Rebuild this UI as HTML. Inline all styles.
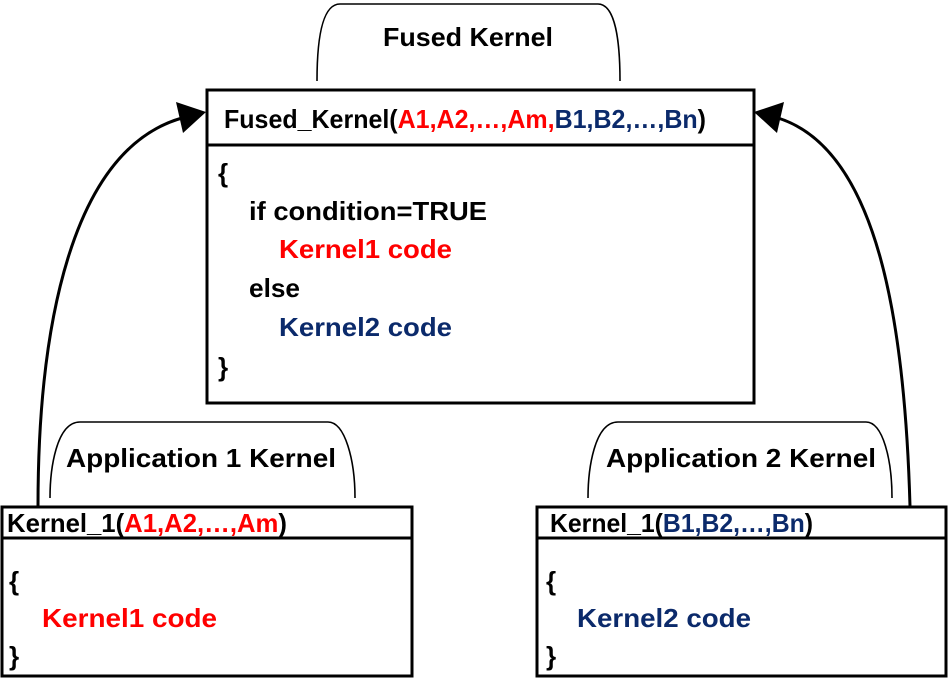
<!DOCTYPE html>
<html><head><meta charset="utf-8"><style>
html,body{margin:0;padding:0;background:#fff;}
svg{display:block;}
text{font-family:"Liberation Sans",sans-serif;font-weight:bold;font-size:26px;}
.r{fill:#ff0000}.b{fill:#0b2a6b}
</style></head><body>
<svg width="948" height="678" viewBox="0 0 948 678" xmlns="http://www.w3.org/2000/svg">
<!-- tabs -->
<path d="M317,81 C317,40 322,4 340,4 L598,4 C615,4 620,40 620,81" fill="none" stroke="#000" stroke-width="1.6"/>
<path d="M50,498 C50,470 56,422 80,422 L328,422 C345,422 355,460 355,498" fill="none" stroke="#000" stroke-width="1.6"/>
<path d="M588,498 C588,470 594,422 618,422 L866,422 C883,422 892,460 892,498" fill="none" stroke="#000" stroke-width="1.6"/>
<!-- main box -->
<rect x="207" y="90" width="547" height="313" fill="#fff" stroke="#000" stroke-width="3"/>
<line x1="207" y1="145" x2="754" y2="145" stroke="#000" stroke-width="3"/>
<!-- bottom boxes -->
<rect x="2" y="507" width="410" height="169" fill="#fff" stroke="#000" stroke-width="3"/>
<line x1="2" y1="538" x2="412" y2="538" stroke="#000" stroke-width="3"/>
<rect x="537" y="507" width="409" height="169" fill="#fff" stroke="#000" stroke-width="3"/>
<line x1="537" y1="538" x2="946" y2="538" stroke="#000" stroke-width="3"/>
<!-- arrows -->
<path d="M38,506 C38,330 70,150 182,118" fill="none" stroke="#000" stroke-width="3"/>
<polygon points="206,112 176,102 183,133" fill="#000"/>
<path d="M910,506 C905,330 880,150 778,118" fill="none" stroke="#000" stroke-width="3"/>
<polygon points="754,112 777,133 784,102" fill="#000"/>
<!-- text -->
<text x="383" y="46" textLength="170" lengthAdjust="spacingAndGlyphs">Fused Kernel</text>
<text x="224" y="128" textLength="482" lengthAdjust="spacingAndGlyphs">Fused_Kernel(<tspan class="r">A1,A2,…,Am,</tspan><tspan class="b">B1,B2,…,Bn</tspan>)</text>
<text x="218" y="182">{</text>
<text x="249" y="220" textLength="238" lengthAdjust="spacingAndGlyphs">if condition=TRUE</text>
<text x="279" y="258" class="r" textLength="173" lengthAdjust="spacingAndGlyphs">Kernel1 code</text>
<text x="249" y="297" textLength="51" lengthAdjust="spacingAndGlyphs">else</text>
<text x="279" y="336" class="b" textLength="173" lengthAdjust="spacingAndGlyphs">Kernel2 code</text>
<text x="218" y="376">}</text>

<text x="66" y="467" textLength="270" lengthAdjust="spacingAndGlyphs">Application 1 Kernel</text>
<text x="606" y="467" textLength="270" lengthAdjust="spacingAndGlyphs">Application 2 Kernel</text>

<text x="7" y="532" textLength="280" lengthAdjust="spacingAndGlyphs">Kernel_1(<tspan class="r">A1,A2,…,Am</tspan>)</text>
<text x="9" y="590">{</text>
<text x="42" y="627" class="r" textLength="175" lengthAdjust="spacingAndGlyphs">Kernel1 code</text>
<text x="9" y="665">}</text>

<text x="550" y="532" textLength="263" lengthAdjust="spacingAndGlyphs">Kernel_1(<tspan class="b">B1,B2,…,Bn</tspan>)</text>
<text x="546" y="590">{</text>
<text x="577" y="627" class="b" textLength="174" lengthAdjust="spacingAndGlyphs">Kernel2 code</text>
<text x="546" y="665">}</text>
</svg>
</body></html>
